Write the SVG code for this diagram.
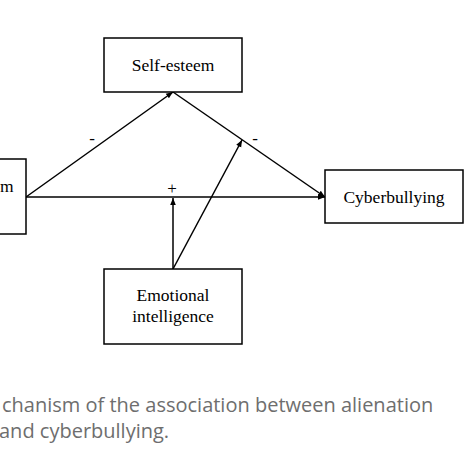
<svg xmlns="http://www.w3.org/2000/svg" width="474" height="474" viewBox="0 0 474 474">
<style>
.box{fill:#fff;stroke:#000;stroke-width:1.5}
.lbl{font-family:"Liberation Serif",serif;font-size:17.5px;fill:#000;text-anchor:middle}
.sign{font-family:"Liberation Serif",serif;font-size:17px;fill:#000;text-anchor:middle}
.edge{stroke:#000;stroke-width:1.5;fill:none;marker-end:url(#ah)}
.cap{font-family:"Open Sans",sans-serif;font-size:20px;fill:#6e6e6e}
</style>
<defs>
<marker id="ah" viewBox="0 0 10 10" refX="10" refY="5" markerWidth="7" markerHeight="7" markerUnits="userSpaceOnUse" orient="auto">
<path d="M0,1 L10,5 L0,9 z" fill="#000"/>
</marker>
</defs>
<rect width="474" height="474" fill="#fff"/>
<g id="connectors">
<line class="edge" x1="26" y1="197" x2="173" y2="92"/>
<line class="edge" x1="173" y1="92" x2="325" y2="197"/>
<line class="edge" x1="26" y1="197" x2="325" y2="197"/>
<line class="edge" x1="173" y1="269" x2="173" y2="198"/>
<line class="edge" x1="173" y1="269" x2="242" y2="140"/>
<text class="sign" x="92" y="144">-</text>
<text class="sign" x="255" y="144">-</text>
<text class="sign" x="172" y="194">+</text>
</g>
<g id="alienation">
<rect class="box" x="-120" y="159" width="146" height="75"/>
<text class="lbl" x="0" y="192" style="text-anchor:start">m</text>
</g>
<g id="self-esteem">
<rect class="box" x="104" y="38" width="138" height="54"/>
<text class="lbl" x="173" y="71">Self-esteem</text>
</g>
<g id="cyberbullying">
<rect class="box" x="325" y="170" width="138" height="53"/>
<text class="lbl" x="394" y="203">Cyberbullying</text>
</g>
<g id="emotional-intelligence">
<rect class="box" x="104" y="269" width="138" height="75"/>
<text class="lbl" x="173" y="301">Emotional</text>
<text class="lbl" x="173" y="322">intelligence</text>
</g>
<g id="caption">
<text class="cap" x="2" y="412">chanism of the association between alienation</text>
<text class="cap" x="-1" y="438">and cyberbullying.</text>
</g>
</svg>
